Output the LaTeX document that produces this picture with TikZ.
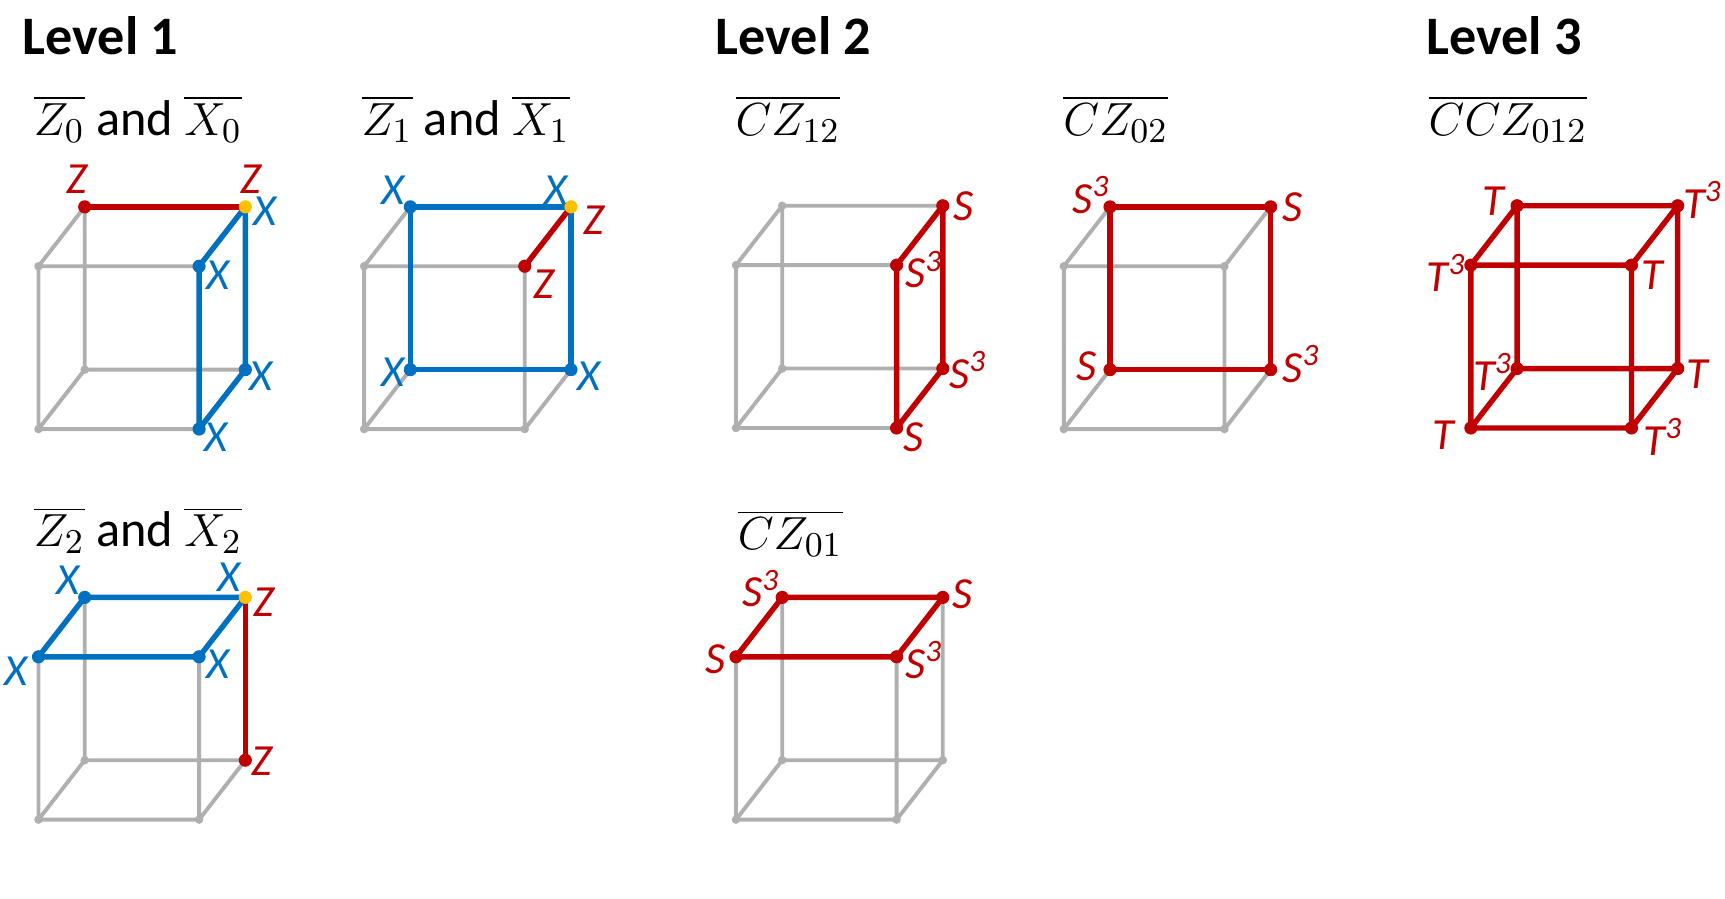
\documentclass[tikz,border=0pt]{standalone}
\usepackage{fontspec}
\setmainfont{Carlito}
\usetikzlibrary{calc}
\definecolor{cgray}{RGB}{175,175,175}
\definecolor{cblue}{RGB}{0,112,192}
\definecolor{cred}{RGB}{192,0,0}
\definecolor{cyel}{RGB}{255,192,0}
\newcommand{\cubeat}[3]{%
  \coordinate (#1btl) at (#2,#3);
  \coordinate (#1btr) at (#2+146,#3);
  \coordinate (#1bbl) at (#2,#3+148);
  \coordinate (#1bbr) at (#2+146,#3+148);
  \coordinate (#1ftl) at (#2-42,#3+54);
  \coordinate (#1ftr) at (#2+104,#3+54);
  \coordinate (#1fbl) at (#2-42,#3+202);
  \coordinate (#1fbr) at (#2+104,#3+202);
  \draw[gedge] (#1btl)--(#1btr)--(#1bbr)--(#1bbl)--cycle
    (#1ftl)--(#1ftr)--(#1fbr)--(#1fbl)--cycle
    (#1btl)--(#1ftl) (#1btr)--(#1ftr) (#1bbl)--(#1fbl) (#1bbr)--(#1fbr);
  \foreach \c in {btl,btr,bbl,bbr,ftl,ftr,fbl,fbr}{\fill[cgray] (#1\c) circle (1.1pt);}
}
\tikzset{
  gedge/.style={cgray,line width=1pt,line join=round},
  bedge/.style={cblue,line width=1.4pt,line join=round},
  redge/.style={cred,line width=1.4pt,line join=round},
  bdot/.style={fill=cblue}, rdot/.style={fill=cred}, ydot/.style={fill=cyel},
  bl/.style={cblue,font=\fontsize{11.5}{11.5}\selectfont\itshape,inner sep=0pt},
  rl/.style={cred,font=\fontsize{11.5}{11.5}\selectfont\itshape,inner sep=0pt},
  lev/.style={font=\fontsize{14}{14}\selectfont\bfseries,anchor=west,inner sep=0},
  sub/.style={font=\fontsize{13}{13}\selectfont,anchor=west,inner sep=0},
}
\newcommand{\dotat}[2]{\fill[#1] (#2) circle (1.7pt);}
\newcommand{\lab}[5]{\node[#1] at ($(#2)+(#3,#4)$) {#5};}
\begin{document}
\begin{tikzpicture}[x=0.01cm,y=-0.01cm]
\useasboundingbox (0,0) rectangle (1568,817);
% titles
\node[lev] (L1) at (20,32) {Level 1};
\node[lev] (L2) at (650,32) {Level 2};
\node[lev] (L3) at (1296,32) {Level 3};
\node[sub] (s1) at (30,108) {$\overline{Z_0}$ and $\overline{X_0}$};
\node[sub] (s2) at (328,108) {$\overline{Z_1}$ and $\overline{X_1}$};
\node[sub] (s3) at (30,482) {$\overline{Z_2}$ and $\overline{X_2}$};
\node[sub] (s4) at (668,108) {$\overline{CZ_{12}}$};
\node[sub] (s5) at (966,108) {$\overline{CZ_{02}}$};
\node[sub] (s6) at (670,485) {$\overline{CZ_{01}}$};
\node[sub] (s7) at (1298,108) {$\overline{CCZ_{012}}$};
% cube 1
\cubeat{a}{77}{188}
\draw[redge] (abtl)--(abtr);
\draw[bedge] (abtr)--(aftr)--(afbr)--(abbr)--cycle;
\dotat{rdot}{abtl}\dotat{ydot}{abtr}\dotat{bdot}{aftr}\dotat{bdot}{abbr}\dotat{bdot}{afbr}
\lab{rl}{abtl}{-7}{-25}{Z}
\lab{rl}{abtr}{5}{-25}{Z}
\lab{bl}{abtr}{18}{4}{X}
\lab{bl}{aftr}{17}{8}{X}
\lab{bl}{abbr}{14}{6}{X}
\lab{bl}{afbr}{15}{7}{X}
% cube 2
\cubeat{b}{373}{188}
\draw[bedge] (bbtl)--(bbtr)--(bbbr)--(bbbl)--cycle;
\draw[redge] (bbtr)--(bftr);
\dotat{bdot}{bbtl}\dotat{ydot}{bbtr}\dotat{bdot}{bbbl}\dotat{bdot}{bbbr}\dotat{rdot}{bftr}
\lab{bl}{bbtl}{-16}{-15}{X}
\lab{bl}{bbtr}{-14}{-15}{X}
\lab{rl}{bbtr}{21}{12}{Z}
\lab{rl}{bftr}{17}{16}{Z}
\lab{bl}{bbbl}{-16}{2}{X}
\lab{bl}{bbbr}{16}{6}{X}
% cube 3
\cubeat{c}{77}{543}
\draw[bedge] (cbtl)--(cbtr)--(cftr)--(cftl)--cycle;
\draw[redge] (cbtr)--(cbbr);
\dotat{bdot}{cbtl}\dotat{ydot}{cbtr}\dotat{bdot}{cftl}\dotat{bdot}{cftr}\dotat{rdot}{cbbr}
\lab{bl}{cbtl}{-15}{-16}{X}
\lab{bl}{cbtr}{-15}{-18}{X}
\lab{rl}{cbtr}{17}{4}{Z}
\lab{bl}{cftl}{-20}{13}{X}
\lab{bl}{cftr}{17}{7}{X}
\lab{rl}{cbbr}{15}{1}{Z}
% cube 4
\cubeat{d}{711}{187}
\draw[redge] (dbtr)--(dftr)--(dfbr)--(dbbr)--cycle;
\foreach \c in {btr,ftr,fbr,bbr}{\dotat{rdot}{d\c}}
\lab{rl}{dbtr}{19}{0}{S}
\lab{rl}{dftr}{25}{4}{S\textsuperscript{3}}
\lab{rl}{dbbr}{23}{1}{S\textsuperscript{3}}
\lab{rl}{dfbr}{15}{8}{S}
% cube 5
\cubeat{e}{1009}{188}
\draw[redge] (ebtl)--(ebtr)--(ebbr)--(ebbl)--cycle;
\foreach \c in {btl,btr,bbl,bbr}{\dotat{rdot}{e\c}}
\lab{rl}{ebtl}{-17}{-11}{S\textsuperscript{3}}
\lab{rl}{ebtr}{20}{0}{S}
\lab{rl}{ebbl}{-21}{-3}{S}
\lab{rl}{ebbr}{28}{-5}{S\textsuperscript{3}}
% cube 6
\cubeat{f}{711}{543}
\draw[redge] (fbtl)--(fbtr)--(fftr)--(fftl)--cycle;
\foreach \c in {btl,btr,ftl,ftr}{\dotat{rdot}{f\c}}
\lab{rl}{fbtl}{-19}{-8}{S\textsuperscript{3}}
\lab{rl}{fbtr}{18}{-3}{S}
\lab{rl}{fftl}{-19}{2}{S}
\lab{rl}{fftr}{25}{3}{S\textsuperscript{3}}
% cube 7
\cubeat{g}{1379}{187}
\draw[redge] (gbtl)--(gbtr)--(gbbr)--(gbbl)--cycle (gftl)--(gftr)--(gfbr)--(gfbl)--cycle
  (gbtl)--(gftl) (gbtr)--(gftr) (gbbl)--(gfbl) (gbbr)--(gfbr);
\foreach \c in {btl,btr,bbl,bbr,ftl,ftr,fbl,fbr}{\dotat{rdot}{g\c}}
\lab{rl}{gbtl}{-22}{-4}{T}
\lab{rl}{gbtr}{23}{-5}{T\textsuperscript{3}}
\lab{rl}{gftl}{-22}{7}{T\textsuperscript{3}}
\lab{rl}{gftr}{19}{9}{T}
\lab{rl}{gbbl}{-22}{3}{T\textsuperscript{3}}
\lab{rl}{gbbr}{18}{5}{T}
\lab{rl}{gfbl}{-25}{7}{T}
\lab{rl}{gfbr}{29}{8}{T\textsuperscript{3}}
\end{tikzpicture}
\end{document}
